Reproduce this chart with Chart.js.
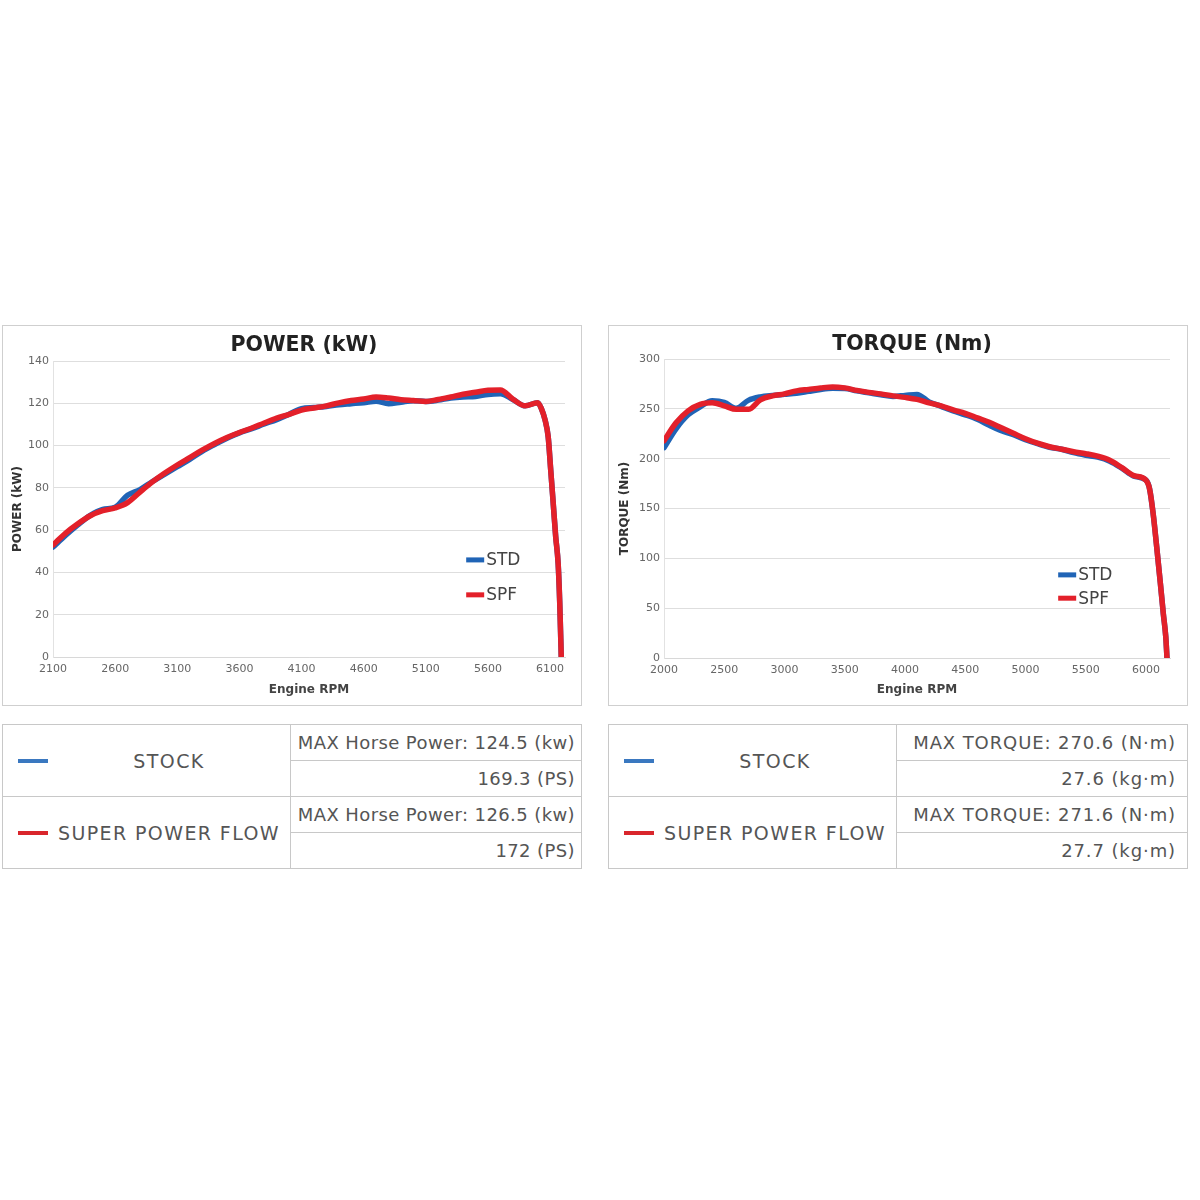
<!DOCTYPE html>
<html>
<head>
<meta charset="utf-8">
<script src="https://cdn.jsdelivr.net/npm/chart.js@4.4.1/dist/chart.umd.min.js"></script>
<style>
  body { margin: 0; background: #fff; width: 1200px; height: 1200px; position: relative; font-family: "DejaVu Sans", sans-serif; }
  .box { position: absolute; width: 578px; height: 379px; border: 1px solid #cfcfcf; }
  .box canvas { display: block; }
  table.spec { position: absolute; width: 580px; height: 142px; border-collapse: collapse; color: #555; font-size: 18px; }
  table.spec td { border: 1px solid #c8c8c8; padding: 0; height: 35px; }
  table.spec td.val { text-align: right; padding-right: 6px; letter-spacing: 0.4px; white-space: nowrap; }
  table.tq td.val { padding-right: 11px; letter-spacing: 0.9px; }
  table.spec td.name { width: 287px; }
  .name .wrap { display: flex; align-items: center; }
  .name .dash { width: 30px; height: 4px; margin-left: 15px; flex: none; }
  .name .lbl { flex: 1; text-align: center; letter-spacing: 1.4px; white-space: nowrap; font-size: 19px; }
</style>
</head>
<body>
<div class="box" style="left:2px;top:325px"><canvas id="powerChart" width="578" height="379"></canvas></div>
<div class="box" style="left:608px;top:325px"><canvas id="torqueChart" width="578" height="379"></canvas></div>

<table class="spec" style="left:2px;top:724px">
  <tr><td class="name" rowspan="2"><div class="wrap"><span class="dash" style="background:#3a78c0"></span><span class="lbl">STOCK</span></div></td><td class="val">MAX Horse Power: 124.5 (kw)</td></tr>
  <tr><td class="val">169.3 (PS)</td></tr>
  <tr><td class="name" rowspan="2"><div class="wrap"><span class="dash" style="background:#d9262c"></span><span class="lbl">SUPER POWER FLOW</span></div></td><td class="val">MAX Horse Power: 126.5 (kw)</td></tr>
  <tr><td class="val">172 (PS)</td></tr>
</table>
<table class="spec tq" style="left:608px;top:724px">
  <tr><td class="name" rowspan="2"><div class="wrap"><span class="dash" style="background:#3a78c0"></span><span class="lbl">STOCK</span></div></td><td class="val">MAX TORQUE: 270.6 (N·m)</td></tr>
  <tr><td class="val">27.6 (kg·m)</td></tr>
  <tr><td class="name" rowspan="2"><div class="wrap"><span class="dash" style="background:#d9262c"></span><span class="lbl">SUPER POWER FLOW</span></div></td><td class="val">MAX TORQUE: 271.6 (N·m)</td></tr>
  <tr><td class="val">27.7 (kg·m)</td></tr>
</table>

<script>
// power curve (kW) vs engine rpm
const powerRpm = [2100, 2200, 2300, 2400, 2500, 2600, 2700, 2800, 2900, 3000,
  3100, 3200, 3300, 3400, 3500, 3600, 3700, 3800, 3900, 4000,
  4100, 4200, 4300, 4400, 4500, 4600, 4700, 4800, 4900, 5000,
  5100, 5200, 5300, 5400, 5500, 5600, 5700, 5800, 5900, 6000,
  6030, 6060, 6085, 6105, 6125, 6145, 6165, 6178, 6190];
const stdPower = [52, 57.5, 62.5, 67, 69.8, 70.8, 76.5, 79.2, 83, 86.5,
  90, 93.5, 97.3, 100.5, 103.5, 106, 108, 110.2, 112.3, 114.8,
  117.5, 118, 118.5, 119.3, 119.8, 120.3, 121, 119.8, 120.5, 121.2,
  120.9, 121.5, 122.5, 123, 123.2, 124.2, 124.5, 121.8, 118.8, 120.3,
  117.5, 112, 104, 88.5, 72.8, 57, 44, 25, 0];
const spfPower = [53, 58.5, 63, 66.8, 69.2, 70.5, 73, 78, 82.8, 87,
  90.8, 94.3, 97.8, 101, 103.8, 106.2, 108.3, 110.7, 113, 114.8,
  116.8, 117.8, 118.8, 120.2, 121.3, 122, 123, 122.5, 121.7, 121.3,
  120.9, 121.8, 123, 124.3, 125.2, 126.2, 126.3, 122, 118.8, 120.3,
  117.5, 112, 104, 88.5, 72.8, 57, 44, 25, 0];
const powerTicks = [2100, 2600, 3100, 3600, 4100, 4600, 5100, 5600, 6100];

// torque curve (Nm) vs engine rpm
const torqueRpm = [2000, 2100, 2200, 2300, 2400, 2500, 2600, 2700, 2800, 2900,
  3000, 3100, 3200, 3300, 3400, 3500, 3600, 3700, 3800, 3900,
  4000, 4100, 4200, 4300, 4400, 4500, 4600, 4700, 4800, 4900,
  5000, 5100, 5200, 5300, 5400, 5500, 5600, 5700, 5800, 5900,
  6000, 6030, 6060, 6090, 6120, 6145, 6165, 6175];
const stdTorque = [211, 230, 244, 252, 258, 256.5, 250.5, 258.5, 262, 263.5,
  264.5, 265.5, 267.5, 269.5, 270.6, 270.5, 268, 266, 264, 262.5,
  263.5, 264.5, 257, 252.5, 248, 244, 239.5, 233.5, 228, 224,
  219, 215, 211.5, 209.5, 206, 203.5, 201.5, 197.5, 190.5, 182.5,
  178.5, 170, 145, 111, 75, 44, 21, 0];
const spfTorque = [218, 236, 248, 254.5, 256, 253, 249.5, 249.5, 259, 263,
  265, 268, 269.5, 271, 272, 271, 268.5, 266.5, 265, 263,
  261.5, 259.5, 256, 253, 249, 245.5, 241, 236.5, 231, 225.5,
  220, 215.5, 212, 209.5, 207, 205, 202.5, 198.5, 191, 183,
  178.5, 170, 145, 111, 75, 44, 21, 0];
const torqueTicks = [2000, 2500, 3000, 3500, 4000, 4500, 5000, 5500, 6000];

const seriesNames = ['STD', 'SPF'];
const seriesColors = ['#2064b6', '#e3202a'];

// legend drawn inside the plot, like the original
const insideLegend = {
  id: 'insideLegend',
  afterDraw(chart, args, opts) {
    const { ctx, chartArea: a } = chart;
    const x = a.left + (a.right - a.left) * opts.x;
    ctx.save();
    chart.data.datasets.forEach((ds, i) => {
      const y = a.top + (a.bottom - a.top) * opts.y[i];
      ctx.fillStyle = ds.borderColor;
      ctx.fillRect(x, y - 2.5, 18, 5);
      ctx.fillStyle = '#444';
      ctx.font = '17px "DejaVu Sans"';
      ctx.textBaseline = 'middle';
      ctx.fillText(ds.label, x + 20, y + 1);
    });
    ctx.restore();
  }
};

// title centred over the plot area rather than the whole canvas
const plotTitle = {
  id: 'plotTitle',
  afterDraw(chart, args, opts) {
    const { ctx, chartArea: a } = chart;
    ctx.save();
    ctx.fillStyle = '#222';
    ctx.font = 'bold 20.5px "DejaVu Sans"';
    ctx.textAlign = 'center';
    ctx.textBaseline = 'middle';
    ctx.fillText(opts.text, (a.left + a.right) / 2 - 5, opts.y);
    ctx.restore();
  }
};

function makeChart(id, rpm, std, spf, opt) {
  const toPts = vals => vals.map((v, i) => ({ x: rpm[i], y: v }));
  const tickFont = { family: 'DejaVu Sans', size: 11 };
  return new Chart(document.getElementById(id), {
    type: 'line',
    data: {
      datasets: [
        { label: seriesNames[0], data: toPts(std), borderColor: seriesColors[0], order: 1 },
        { label: seriesNames[1], data: toPts(spf), borderColor: seriesColors[1], order: 0 }
      ]
    },
    options: {
      responsive: false,
      animation: false,
      elements: {
        point: { radius: 0 },
        line: { borderWidth: 5.5, cubicInterpolationMode: 'monotone', borderCapStyle: 'round', borderJoinStyle: 'round' }
      },
      layout: { padding: { right: opt.padRight, top: opt.padTop } },
      plugins: {
        legend: { display: false },
        tooltip: { enabled: false },
        title: { display: false },
        plotTitle: { text: opt.title, y: opt.titleY },
        insideLegend: opt.legend
      },
      scales: {
        x: {
          type: 'linear',
          min: rpm[0],
          max: opt.xMax,
          afterBuildTicks: axis => { axis.ticks = opt.ticks.map(v => ({ value: v })); },
          afterFit: axis => { axis.height = opt.xHeight; },
          ticks: { autoSkip: false, maxRotation: 0, padding: 6, color: '#666', font: tickFont, callback: v => String(v) },
          grid: { display: false, drawTicks: false },
          border: { display: true, color: '#d8d8d8' },
          title: { display: true, text: 'Engine RPM', color: '#444', font: { family: 'DejaVu Sans', size: 12, weight: 'bold' }, padding: { top: 0, bottom: 8 } }
        },
        y: {
          min: 0,
          max: opt.yMax,
          afterFit: axis => { axis.width = opt.yWidth; },
          ticks: { stepSize: opt.yStep, padding: 4, color: '#666', font: tickFont, callback: v => String(v) },
          grid: { color: '#dedede', drawTicks: false },
          border: { display: true, color: '#e2e2e2' },
          title: { display: true, text: opt.yTitle, color: '#333', font: { family: 'DejaVu Sans', size: 12, weight: 'bold' }, padding: { top: opt.yTitlePad, bottom: 0 } }
        }
      }
    },
    plugins: [insideLegend, plotTitle]
  });
}

makeChart('powerChart', powerRpm, stdPower, spfPower, {
  title: 'POWER (kW)', yTitle: 'POWER (kW)',
  xMax: 6220, yMax: 140, yStep: 20, ticks: powerTicks,
  yWidth: 50, xHeight: 48, padRight: 16, padTop: 35, titleY: 20, yTitlePad: 8,
  legend: { x: 0.807, y: [0.672, 0.79] }
});

makeChart('torqueChart', torqueRpm, stdTorque, spfTorque, {
  title: 'TORQUE (Nm)', yTitle: 'TORQUE (Nm)',
  xMax: 6200, yMax: 300, yStep: 50, ticks: torqueTicks,
  yWidth: 55, xHeight: 47, padRight: 17, padTop: 33, titleY: 19, yTitlePad: 9,
  legend: { x: 0.779, y: [0.722, 0.80] }
});
</script>
</body>
</html>
